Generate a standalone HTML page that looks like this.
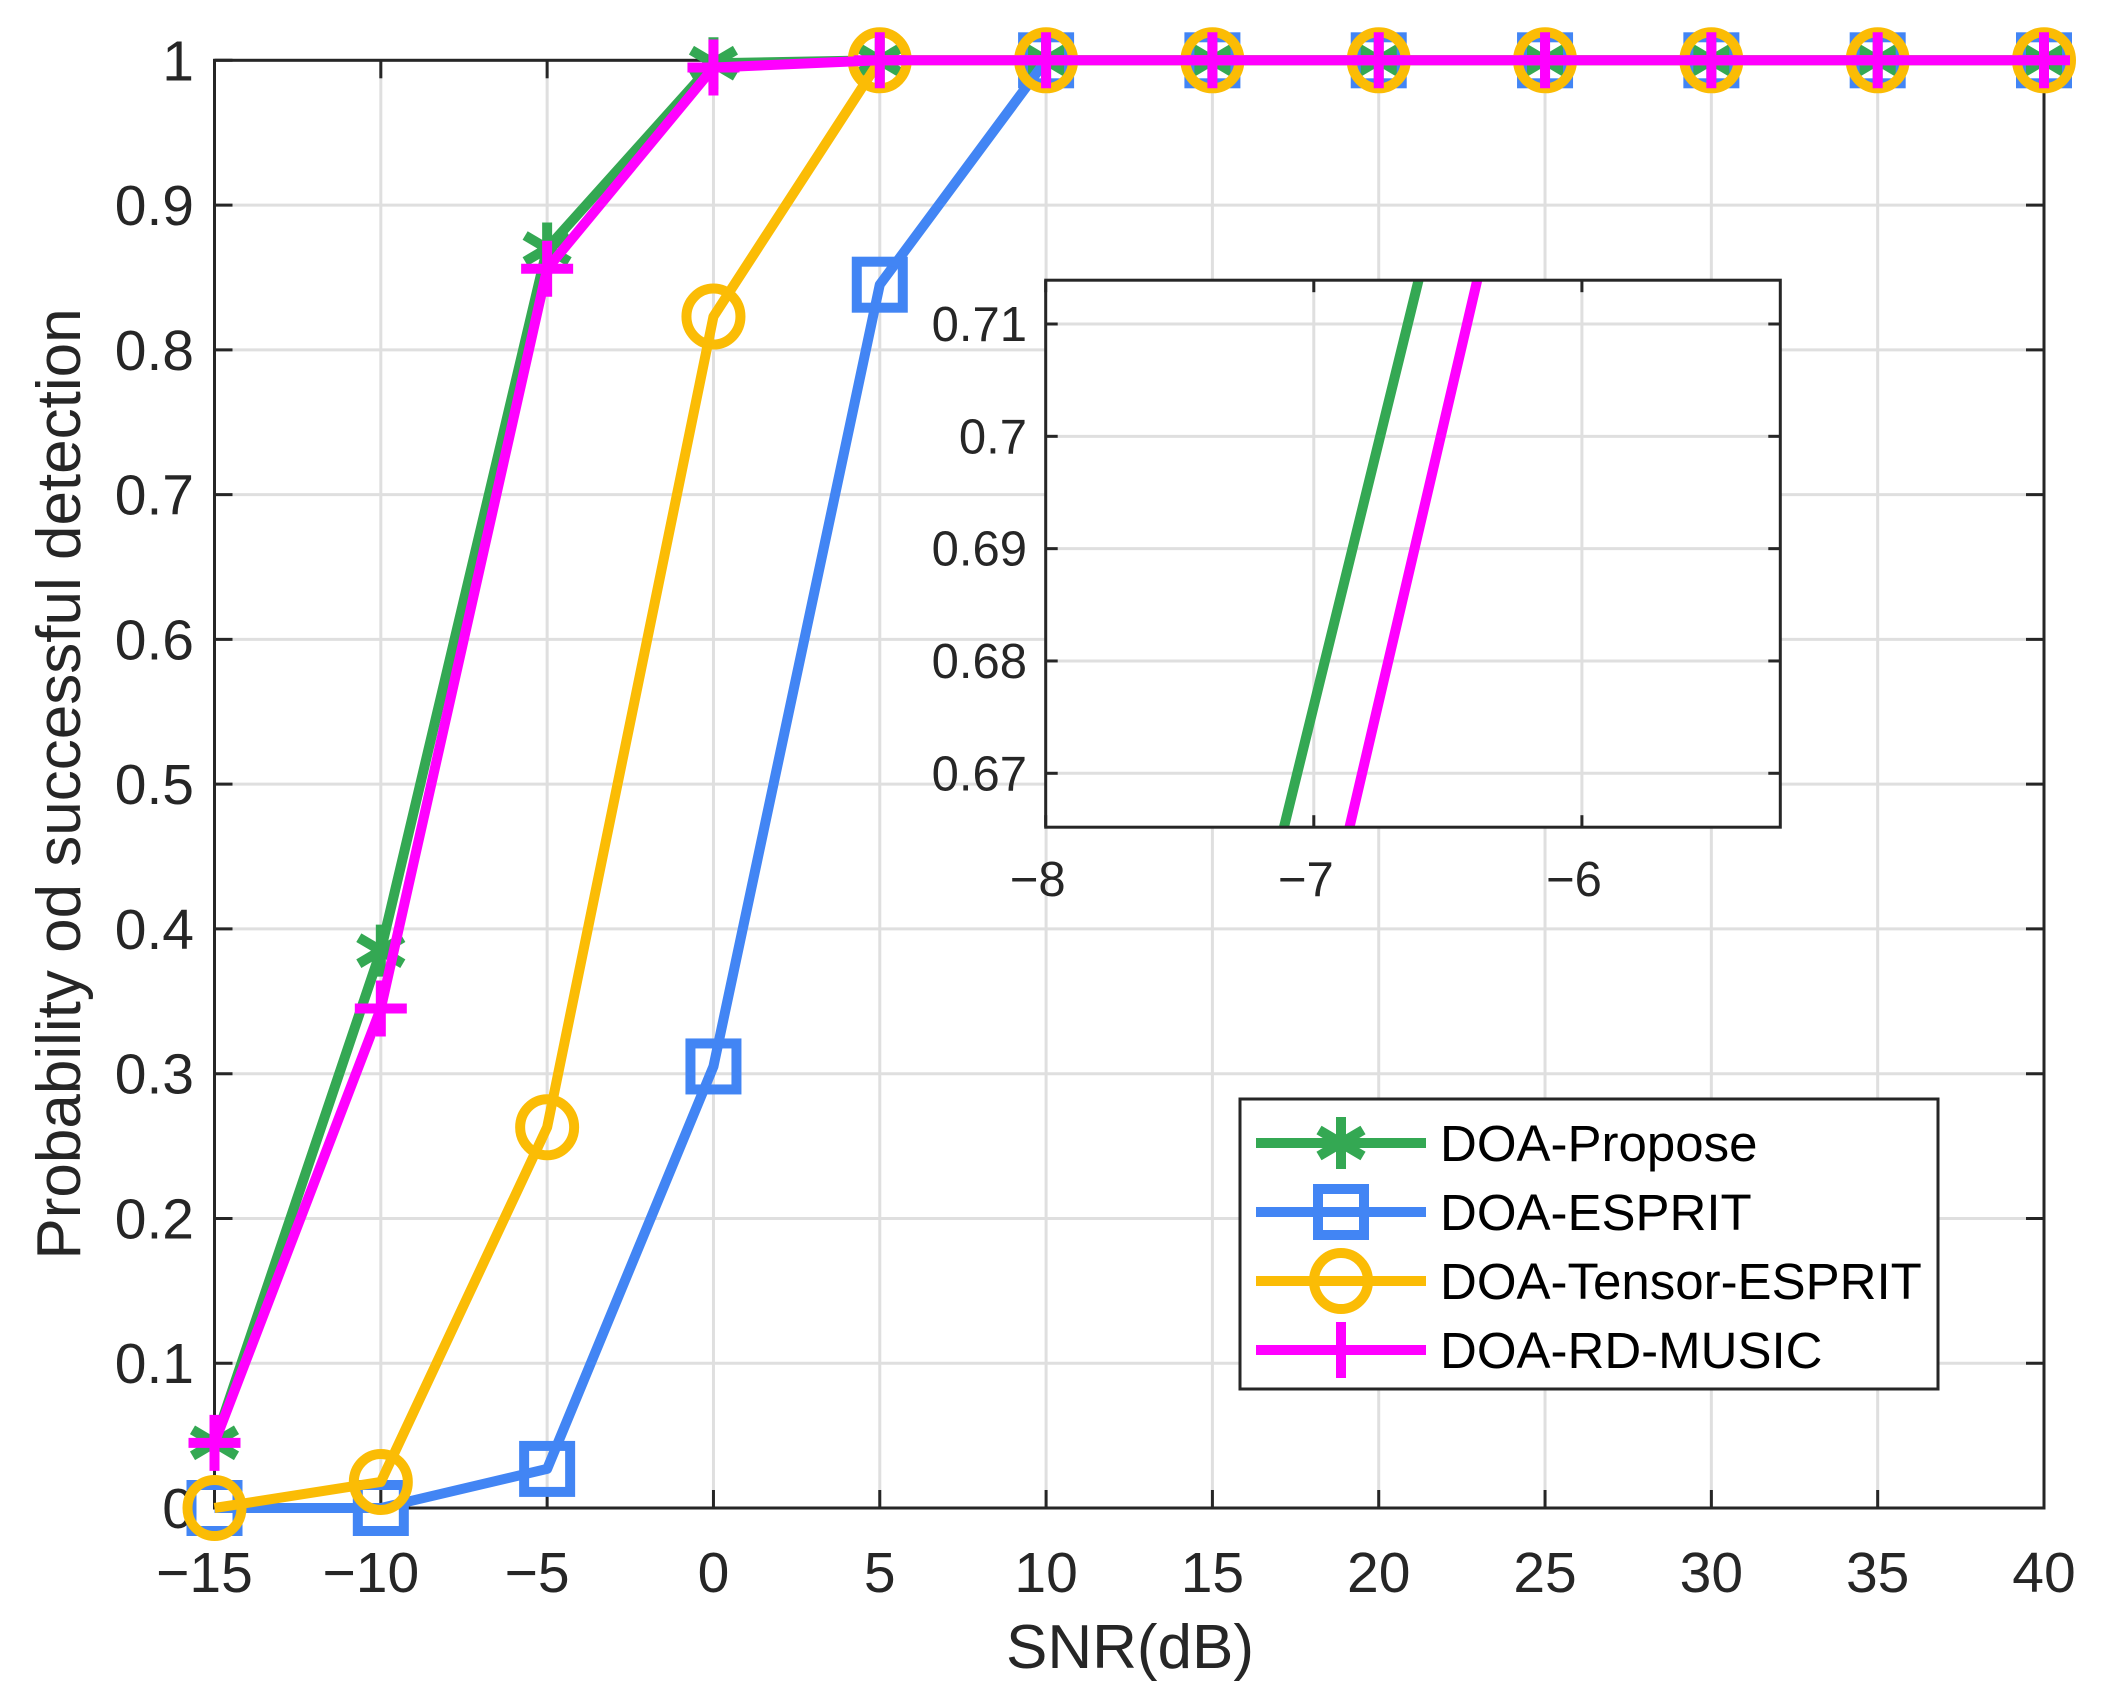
<!DOCTYPE html>
<html><head><meta charset="utf-8"><style>
html,body{margin:0;padding:0;background:#fff;overflow:hidden;width:2102px;height:1706px;}
svg{display:block;font-family:"Liberation Sans",sans-serif;}
</style></head><body>
<svg id="chart" width="2102" height="1706" viewBox="0 0 2102 1706" xmlns="http://www.w3.org/2000/svg">
<rect width="2102" height="1706" fill="#fff"/>
</svg>
<script>
const snr = [-15,-10,-5,0,5,10,15,20,25,30,35,40];
const propose = [0.045,0.385,0.870,0.998,1,1,1,1,1,1,1,1];
const esprit = [0,0,0.027,0.305,0.845,1,1,1,1,1,1,1];
const tensor = [0,0.018,0.263,0.823,1,1,1,1,1,1,1,1];
const rdmusic = [0.045,0.345,0.856,0.995,1,1,1,1,1,1,1,1];
const xTicks = [-15,-10,-5,0,5,10,15,20,25,30,35,40];
const yTicks = [0,0.1,0.2,0.3,0.4,0.5,0.6,0.7,0.8,0.9,1];
const insetXTicks = [-8,-7,-6];
const insetYTicks = [0.67,0.68,0.69,0.7,0.71];
const seriesNames = ['DOA-Propose','DOA-ESPRIT','DOA-Tensor-ESPRIT','DOA-RD-MUSIC'];

const NS='http://www.w3.org/2000/svg';
const svg=document.getElementById('chart');
function mk(tag,attrs,parent){const e=document.createElementNS(NS,tag);for(const k in attrs)e.setAttribute(k,attrs[k]);(parent||svg).appendChild(e);return e;}
const L=214.5,R=2044,T=60.3,B=1508;
const X=v=>L+(v+15)/55*(R-L);
const Y=v=>B-v*(B-T);
const fmtNum=v=>(v<0?'\u2212':'')+Math.abs(v);
const TXT='#262626';
const LW=10;

const grid=mk('g',{});


xTicks.forEach(t=>mk('line',{x1:X(t),x2:X(t),y1:T,y2:B,stroke:'#dfdfdf','stroke-width':3},grid));
yTicks.forEach(t=>mk('line',{x1:L,x2:R,y1:Y(t),y2:Y(t),stroke:'#dfdfdf','stroke-width':3},grid));
const box=mk('rect',{x:L,y:T,width:R-L,height:B-T,fill:'none',stroke:TXT,'stroke-width':3});


xTicks.forEach(t=>{
  mk('line',{x1:X(t),x2:X(t),y1:B,y2:B-18,stroke:TXT,'stroke-width':3});
  mk('line',{x1:X(t),x2:X(t),y1:T,y2:T+18,stroke:TXT,'stroke-width':3});
  const tx=mk('text',{x:X(t)+(t<0?-10:0),y:1592,'font-size':57,'text-anchor':'middle',fill:TXT});
  tx.textContent=fmtNum(t);
  
  
});
yTicks.forEach(t=>{
  mk('line',{x1:L,x2:L+18,y1:Y(t),y2:Y(t),stroke:TXT,'stroke-width':3});
  mk('line',{x1:R,x2:R-18,y1:Y(t),y2:Y(t),stroke:TXT,'stroke-width':3});
  const tx=mk('text',{x:194,y:Y(t)+20,'font-size':57,'text-anchor':'end',fill:TXT});
  tx.textContent=String(t);
  
  
});
const xl=mk('text',{x:1130,y:1668,'font-size':62,'text-anchor':'middle',fill:TXT});
xl.textContent='SNR(dB)';


const yl=mk('text',{x:0,y:0,'font-size':62,'text-anchor':'middle',fill:TXT,transform:'translate(80,784) rotate(-90)'});
yl.textContent='Probability od successful detection';



const colors=['#34A853','#4285F4','#FBBC05','#FF00FF'];
const datasets=[propose,esprit,tensor,rdmusic];
const markers=['star','square','circle','plus'];
function marker(type,cx,cy,col,g){
  const w=LW;
  if(type==='square') mk('rect',{x:cx-23,y:cy-23,width:46,height:46,fill:'none',stroke:col,'stroke-width':w},g);
  else if(type==='circle') mk('ellipse',{cx:cx,cy:cy,rx:27,ry:28,fill:'none',stroke:col,'stroke-width':w},g);
  else if(type==='plus'){mk('line',{x1:cx-26,x2:cx+26,y1:cy,y2:cy,stroke:col,'stroke-width':w},g);mk('line',{x1:cx,x2:cx,y1:cy-28,y2:cy+28,stroke:col,'stroke-width':w},g);}
  else {
    mk('line',{x1:cx,x2:cx,y1:cy-26,y2:cy+26,stroke:col,'stroke-width':w},g);
    mk('line',{x1:cx-22,x2:cx+22,y1:cy-13,y2:cy+13,stroke:col,'stroke-width':w},g);
    mk('line',{x1:cx-22,x2:cx+22,y1:cy+13,y2:cy-13,stroke:col,'stroke-width':w},g);
  }
}
datasets.forEach((d,i)=>{
  const g=mk('g',{});
  
  
  const pts=d.map((v,j)=>X(snr[j])+','+Y(v)).join(' ');
  mk('polyline',{points:pts,fill:'none',stroke:colors[i],'stroke-width':LW,'stroke-linejoin':'round'},g);
  d.forEach((v,j)=>marker(markers[i],X(snr[j]),Y(v),colors[i],g));
});

const IL=1045.7,IR=1780.3,IT=280.2,IB=827.2;
const ix0=-8,ix1=-5.26,iy0=0.6652,iy1=0.7139;
const IX=v=>IL+(v-ix0)/(ix1-ix0)*(IR-IL);
const IY=v=>IB-(v-iy0)/(iy1-iy0)*(IB-IT);
const ins=mk('g',{});


mk('rect',{x:IL,y:IT,width:IR-IL,height:IB-IT,fill:'#fff'},ins);
mk('clipPath',{id:'ic'},ins).appendChild((()=>{const r=document.createElementNS(NS,'rect');r.setAttribute('x',IL);r.setAttribute('y',IT);r.setAttribute('width',IR-IL);r.setAttribute('height',IB-IT);return r;})());
insetXTicks.forEach(t=>mk('line',{x1:IX(t),x2:IX(t),y1:IT,y2:IB,stroke:'#dfdfdf','stroke-width':3},ins));
insetYTicks.forEach(t=>mk('line',{x1:IL,x2:IR,y1:IY(t),y2:IY(t),stroke:'#dfdfdf','stroke-width':3},ins));
const ig=mk('g',{'clip-path':'url(#ic)'},ins);
datasets.forEach((d,i)=>{
  const pts=d.map((v,j)=>IX(snr[j])+','+IY(v)).join(' ');
  mk('polyline',{points:pts,fill:'none',stroke:colors[i],'stroke-width':LW},ig);
});
mk('rect',{x:IL,y:IT,width:IR-IL,height:IB-IT,fill:'none',stroke:TXT,'stroke-width':3},ins);
insetXTicks.forEach(t=>{
  mk('line',{x1:IX(t),x2:IX(t),y1:IB,y2:IB-12,stroke:TXT,'stroke-width':3},ins);
  mk('line',{x1:IX(t),x2:IX(t),y1:IT,y2:IT+12,stroke:TXT,'stroke-width':3},ins);
  const tx=mk('text',{x:IX(t)-8,y:896,'font-size':49,'text-anchor':'middle',fill:TXT},ins);
  tx.textContent=fmtNum(t);
  
  
});
insetYTicks.forEach(t=>{
  mk('line',{x1:IL,x2:IL+12,y1:IY(t),y2:IY(t),stroke:TXT,'stroke-width':3},ins);
  mk('line',{x1:IR,x2:IR-12,y1:IY(t),y2:IY(t),stroke:TXT,'stroke-width':3},ins);
  const tx=mk('text',{x:1027,y:IY(t)+17,'font-size':49,'text-anchor':'end',fill:TXT},ins);
  tx.textContent=String(t);
  
  
});

const lg=mk('g',{});


mk('rect',{x:1240,y:1099,width:698,height:290,fill:'#fff',stroke:TXT,'stroke-width':3},lg);
seriesNames.forEach((n,i)=>{
  const e=mk('g',{},lg);
  
  
  const cy=1143+i*69;
  mk('line',{x1:1256,x2:1426,y1:cy,y2:cy,stroke:colors[i],'stroke-width':LW},e);
  marker(markers[i],1341,cy,colors[i],e);
  const tx=mk('text',{x:1440,y:cy+18,'font-size':51,fill:'#000'},e);
  tx.textContent=n;
});
</script>
</body></html>
